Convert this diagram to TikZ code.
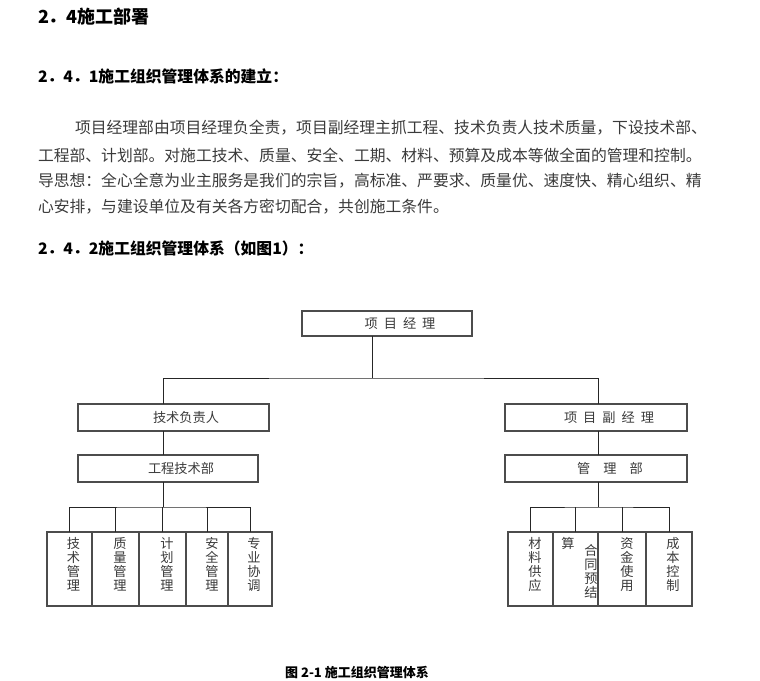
\documentclass[tikz,border=0pt]{standalone}
\usepackage{fontspec}
\setmainfont{Noto Sans CJK SC}
\usepackage{xcolor}
\usepackage{tikz}
\definecolor{bodygray}{HTML}{3A3A3A}
\newcommand\wsp{\hspace{6pt}}

\begin{document}
\begin{tikzpicture}[
  x=1pt, y=-1pt,
  every node/.style={inner sep=0pt, outer sep=0pt},
  head/.style={anchor=west, font=\fontsize{18}{20}\selectfont\bfseries},
  subhead/.style={anchor=west, font=\fontsize{15.8}{17}\selectfont\bfseries},
  body/.style={anchor=west, text=bodygray, font=\fontsize{15.8}{18}\selectfont},
  box/.style={draw=black!70, line width=1.1pt},
  boxtext/.style={text=bodygray, font=\fontsize{13.2}{15}\selectfont},
  coltext/.style={anchor=north, align=center, text=bodygray, font=\fontsize{13.2}{14.2}\selectfont},
  conn/.style={draw=black!85, line width=0.9pt},
]
\useasboundingbox (0,0) rectangle (760,680);
% headings and text
\node[head] (h1) at (38,17) {2．4施工部署};
\node[subhead] (h2) at (38,76) {2．4．1施工组织管理体系的建立：};
\node[body] (p1) at (75,128) {项目经理部由项目经理负全责，项目副经理主抓工程、技术负责人技术质量，下设技术部、};
\node[body] (p2) at (38,155) {工程部、计划部。对施工技术、质量、安全、工期、材料、预算及成本等做全面的管理和控制。};
\node[body] (p3) at (38,181) {导思想：全心全意为业主服务是我们的宗旨，高标准、严要求、质量优、速度快、精心组织、精};
\node[body] (p4) at (38,207) {心安排，与建设单位及有关各方密切配合，共创施工条件。};
\node[subhead] (h3) at (38,248) {2．4．2施工组织管理体系（如图1）：};
% top of chart
\node[box, minimum width=170, minimum height=25] (pm) at (387,323.5) {};
\node[boxtext] (pmt) at (400,323.5) {项\wsp 目\wsp 经\wsp 理};
\coordinate (tbar) at (372,378);
\coordinate (lsp) at (163,507);
\coordinate (rsp) at (598,507);
% left branch
\node[box, minimum width=191, minimum height=27] (jsfz) at (173.5,417.5) {};
\node[boxtext] (jsfzt) at (186,417.5) {技术负责人};
\node[box, minimum width=180, minimum height=27] (gcjs) at (168,468.5) {};
\node[boxtext] (gcjst) at (181,468.5) {工程技术部};
\node[box, minimum width=45, minimum height=74] (l1) at (69.5,569) {};
\node[box, minimum width=47, minimum height=74] (l2) at (115.5,569) {};
\node[box, minimum width=47, minimum height=74] (l3) at (162.5,569) {};
\node[box, minimum width=42, minimum height=74] (l4) at (207,569) {};
\node[box, minimum width=44, minimum height=74] (l5) at (250,569) {};
\node[coltext] (l1t) at (73.5,537) {技\\术\\管\\理};
\node[coltext] (l2t) at (120,537) {质\\量\\管\\理};
\node[coltext] (l3t) at (167,537) {计\\划\\管\\理};
\node[coltext] (l4t) at (212,537) {安\\全\\管\\理};
\node[coltext] (l5t) at (254,537) {专\\业\\协\\调};
% right branch
\node[box, minimum width=182, minimum height=27] (xmfj) at (596,417.5) {};
\node[boxtext] (xmfjt) at (609,417.5) {项\wsp 目\wsp 副\wsp 经\wsp 理};
\node[box, minimum width=182, minimum height=27] (glb) at (596,468.5) {};
\node[boxtext] (glbt) at (610,468.5) {管\hspace{13pt}理\hspace{13pt}部};
\node[box, minimum width=45, minimum height=74] (r1) at (530.5,569) {};
\node[box, minimum width=45, minimum height=74] (r2) at (575.5,569) {};
\node[box, minimum width=48, minimum height=74] (r3) at (622,569) {};
\node[box, minimum width=46, minimum height=74] (r4) at (669,569) {};
\node[coltext] (r1t) at (535,537) {材\\料\\供\\应};
\node[boxtext] (r2a) at (568,543) {算};
\node[coltext] (r2t) at (591,544) {合\\同\\预\\结};
\node[coltext] (r3t) at (627,537) {资\\金\\使\\用};
\node[coltext] (r4t) at (673,537) {成\\本\\控\\制};
% connectors
\draw[conn] (pm.south -| tbar) -- (tbar);
\draw[conn] (jsfz.north -| lsp) |- (tbar) -| (xmfj.north -| rsp);
\draw[conn] (jsfz.south -| lsp) -- (gcjs.north -| lsp);
\draw[conn] (gcjs.south -| lsp) -- (lsp);
\draw[conn] (l1.north) |- (lsp) -| (l5.north);
\draw[conn] (l2.north) -- (l2.north |- lsp);
\draw[conn] (l3.north) -- (l3.north |- lsp);
\draw[conn] (l4.north) -- (l4.north |- lsp);
\draw[conn] (xmfj.south -| rsp) -- (glb.north -| rsp);
\draw[conn] (glb.south -| rsp) -- (rsp);
\draw[conn] (r1.north) |- (rsp) -| (r4.north);
\draw[conn] (r2.north) -- (r2.north |- rsp);
\draw[conn] (r3.north) -- (r3.north |- rsp);
% caption
\node[font=\fontsize{13}{15}\selectfont\bfseries] (cap) at (357,672) {图 2-1 施工组织管理体系};
\end{tikzpicture}
\end{document}
